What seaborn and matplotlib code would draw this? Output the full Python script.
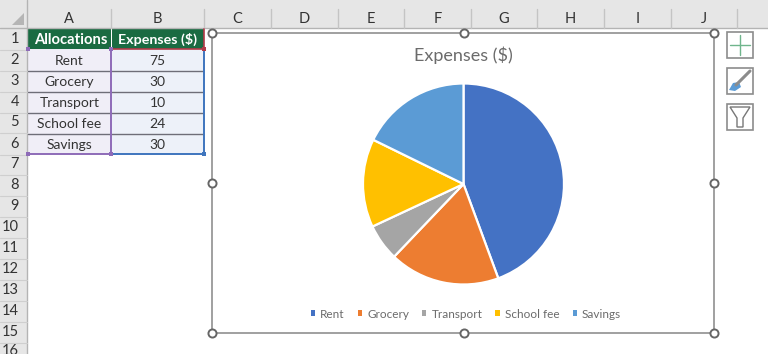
import matplotlib
matplotlib.use("Agg")
import matplotlib.pyplot as plt
from matplotlib.patches import Rectangle, Polygon
import seaborn as sns

# data
allocations = ["Rent", "Grocery", "Transport", "School fee", "Savings"]
expenses = [75, 30, 10, 24, 30]
pie_colors = ["#4472C4", "#ED7D31", "#A5A5A5", "#FFC000", "#5B9BD5"]
header_a = "Allocations"
header_b = "Expenses ($)"
chart_title = "Expenses ($)"
col_labels = ["A", "B", "C", "D", "E", "F", "G", "H", "I", "J"]
row_labels = [str(i) for i in range(1, 17)]

sns.set_theme(style="white")
plt.rcParams["font.family"] = ["Lato", "DejaVu Sans"]

W, H = 768, 354
fig = plt.figure(figsize=(W / 100, H / 100), dpi=100, facecolor="white")

# sheet layer in pixel coordinates
sheet = fig.add_axes([0, 0, 1, 1])
sheet.set_xlim(0, W)
sheet.set_ylim(H, 0)
sheet.axis("off")

# headers
sheet.add_patch(Rectangle((0, 0), W, 28, fc="#E6E6E6", ec="none"))
sheet.add_patch(Rectangle((0, 0), 27, H, fc="#E6E6E6", ec="none"))
sheet.plot([0, W], [28, 28], color="#B4B4B4", lw=1)
sheet.plot([27, 27], [0, H], color="#B4B4B4", lw=1)
sheet.add_patch(Polygon([[24, 13], [24, 25], [12, 25]], fc="#B5B5B5", ec="none"))

col_edges = [27, 111, 204, 271, 338, 404, 471, 537, 604, 671, 737]
for i, lab in enumerate(col_labels):
    sheet.text((col_edges[i] + col_edges[i + 1]) / 2, 19, lab, ha="center", va="center",
               fontsize=10.5, color="#333333")
for x in col_edges[1:]:
    sheet.plot([x, x], [9, 28], color="#C4C4C4", lw=1)

row_y = [39, 60, 81, 102, 122, 144, 164, 185, 206, 227, 248, 269, 290, 311, 332, 351]
for lab, y in zip(row_labels, row_y):
    sheet.text(19, y, lab, ha="right", va="center", fontsize=10.5, color="#333333",
               clip_on=True)
    sheet.plot([0, 27], [y + 10.5, y + 10.5], color="#CFCFCF", lw=0.8)

# table
a_x0, a_x1, b_x1 = 28, 111, 204
top = 29
sheet.add_patch(Rectangle((a_x0, top), a_x1 - a_x0, 20, fc="#1A6B42", ec="none"))
sheet.add_patch(Rectangle((a_x1 + 1, top), b_x1 - a_x1 - 1, 20, fc="#1A6B42", ec="none"))
sheet.text((a_x0 + a_x1) / 2 + 1, 39.5, header_a, ha="center", va="center", fontsize=10.6,
           color="white", fontweight="bold")
sheet.text((a_x1 + b_x1) / 2, 39.5, header_b, ha="center", va="center", fontsize=10.3,
           color="white", fontweight="bold")
sheet.add_patch(Rectangle((a_x0, 49), a_x1 - a_x0, 105, fc="#F0EEF7", ec="none"))
sheet.add_patch(Rectangle((a_x1, 49), b_x1 - a_x1, 105, fc="#EDF1F9", ec="none"))
for i, (name, val) in enumerate(zip(allocations, expenses)):
    y = 60 + i * 21
    sheet.text((a_x0 + a_x1) / 2, y + 1, name, ha="center", va="center", fontsize=10, color="#333333")
    sheet.text((a_x1 + b_x1) / 2, y + 1, str(val), ha="center", va="center", fontsize=10, color="#333333")
    if i < 4:
        sheet.plot([a_x0, b_x1 - 1], [y + 10.5, y + 10.5], color="#6E6E78", lw=1)

# range selection outlines
purple, blue, red = "#8E6BB8", "#3F75BE", "#B23A48"
sheet.plot([a_x0, a_x1, a_x1], [154, 154, 49], color=purple, lw=1.4)
sheet.plot([a_x1, b_x1, b_x1], [154, 154, 49], color=blue, lw=1.4)
sheet.plot([a_x1, b_x1, b_x1], [49, 49, 29], color=red, lw=1.2)
for x, y, c in [(28, 49, purple), (111, 49, purple), (28, 154, purple), (111, 154, purple),
                (204, 154, blue), (204, 49, red)]:
    sheet.add_patch(Rectangle((x - 2, y - 2), 4, 4, fc=c, ec="none", zorder=4))

# chart frame and handles
fx0, fx1, fy0, fy1 = 212, 714, 33, 333
sheet.add_patch(Rectangle((fx0, fy0), fx1 - fx0, fy1 - fy0, fc="white", ec="#909090", lw=1.2, zorder=3))
fxm, fym = (fx0 + fx1) / 2 + 0.5, (fy0 + fy1) / 2
hx = [fx0, fxm, fx1, fx0, fx1, fx0, fxm, fx1]
hy = [fy0, fy0, fy0, fym, fym, fy1, fy1, fy1]
sheet.scatter(hx, hy, s=34, fc="white", ec="#666666", lw=1.4, zorder=5)
sheet.text(463, 55, chart_title, ha="center", va="center", fontsize=13, color="#6B6B6B", zorder=5)

# side buttons
for y0 in [32, 68, 104]:
    sheet.add_patch(Rectangle((727, y0), 26, 25.5, fc="white", ec="#8C8C8C", lw=1.2))
sheet.plot([730, 750], [45, 45], color="#6FB58C", lw=1)
sheet.plot([740, 740], [35, 55], color="#6FB58C", lw=1)
sheet.plot([736, 750], [85, 71], color="#8C8C8C", lw=2.2)
sheet.add_patch(Polygon([[729, 90], [733, 83], [739, 82], [741, 87], [735, 91]], fc="#5B9BD5", ec="none"))
sheet.add_patch(Polygon([[730, 107], [750, 107], [743, 118], [743, 127], [737, 127], [737, 118]],
                        fc="white", ec="#777777", lw=1))

# pie
R = 100.5
cx, cy = 463.5, 184
pie_ax = fig.add_axes([(cx - R) / W, 1 - (cy + R) / H, 2 * R / W, 2 * R / H])
wedges, _ = pie_ax.pie(expenses, colors=pie_colors, startangle=90, counterclock=False,
                       radius=1, wedgeprops={"edgecolor": "white", "linewidth": 1.6})
pie_ax.set_xlim(-1, 1)
pie_ax.set_ylim(-1, 1)

leg = fig.legend(wedges, allocations, ncol=5, loc="center", bbox_to_anchor=(466 / W, 1 - 314 / H),
                 frameon=False, fontsize=8.5, labelcolor="#6B6B6B", handlelength=0.35, handleheight=0.35,
                 handletextpad=0.45, columnspacing=1.1)
for h in leg.legend_handles:
    h.set_linewidth(0)

fig.savefig("out.png", dpi=100)
